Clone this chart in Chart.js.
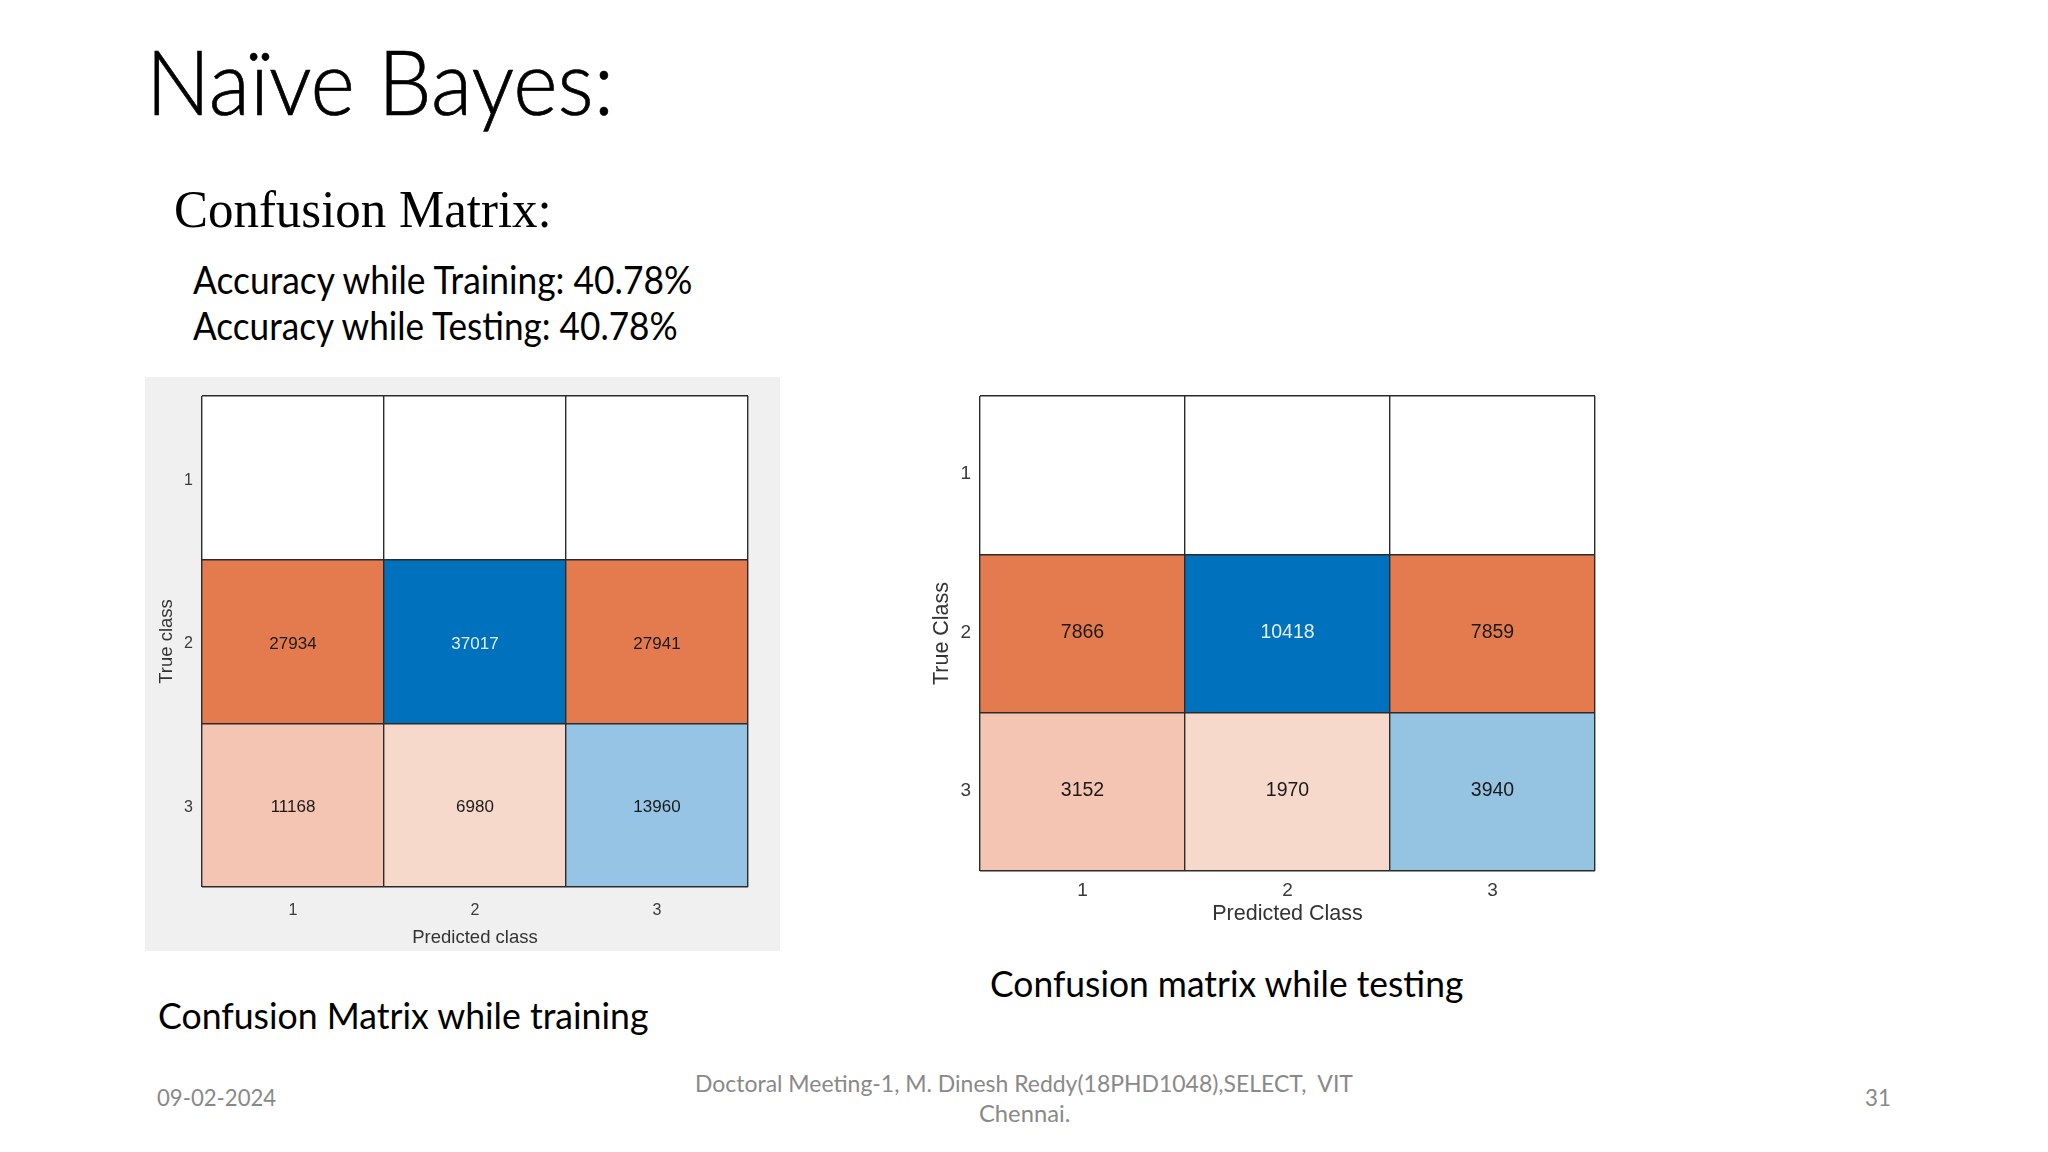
<!DOCTYPE html>
<html><head><meta charset="utf-8">
<script src="https://cdn.jsdelivr.net/npm/chart.js@4.4.1/dist/chart.umd.min.js"></script>
<style>
html,body{margin:0;padding:0;background:#fff;}
body{width:2048px;height:1152px;position:relative;overflow:hidden;}
.t{position:absolute;white-space:pre;line-height:1;transform-origin:0 0;}
#trainBox{position:absolute;left:145px;top:377px;width:635px;height:574px;background:#f0f0f0;}
#testBox{position:absolute;left:920px;top:380px;width:700px;height:560px;background:#fff;}
canvas{display:block;}
</style></head><body>
<div id="trainBox"><canvas id="trainChart" width="635" height="574"></canvas></div>
<div id="testBox"><canvas id="testChart" width="700" height="560"></canvas></div>
<script>
// ---------- data ----------
const classLabels = ['1', '2', '3'];            // predicted / true class tick labels
const trainRow1 = [0, 0, 0];                    // true class 1 (empty)
const trainRow2 = [27934, 37017, 27941];        // true class 2
const trainRow3 = [11168, 6980, 13960];         // true class 3
const testRow1 = [0, 0, 0];
const testRow2 = [7866, 10418, 7859];
const testRow3 = [3152, 1970, 3940];

// ---------- slide texts ----------
const slideTexts = [
  {s:'Naïve Bayes:', font:'300 90px Lato', left:146, base:115, w:468, color:'#000', stroke:0.7},
  {s:'Confusion Matrix:', font:'52px "Liberation Serif"', left:174, base:227, w:378, color:'#000'},
  {s:'Accuracy while Training: 40.78%', font:'39px Lato', left:193, base:294, w:499, color:'#000'},
  {s:'Accuracy while Testing: 40.78%', font:'39px Lato', left:193, base:340, w:485, color:'#000'},
  {s:'Confusion Matrix while training', font:'37px Lato', left:158, base:1029, w:490, color:'#000'},
  {s:'Confusion matrix while testing', font:'37px Lato', left:990, base:997, w:473, color:'#000'},
  {s:'09-02-2024', font:'24px Lato', left:157, base:1106, w:119, color:'#898989'},
  {s:'Doctoral Meeting-1, M. Dinesh Reddy(18PHD1048),SELECT,  VIT', font:'24px Lato', center:1024, base:1092, w:658, color:'#898989'},
  {s:'Chennai.', font:'24px Lato', center:1024, base:1122, w:91, color:'#898989'},
  {s:'31', font:'24px Lato', left:1865, base:1106, w:26, color:'#898989'}
];

function placeTexts(){
  slideTexts.forEach(t => {
    const d = document.createElement('div');
    d.className = 't';
    d.style.font = t.font;
    d.style.lineHeight = '1';
    d.style.color = t.color;
    if (t.stroke) d.style.webkitTextStroke = t.stroke + 'px ' + t.color;
    d.textContent = t.s;
    const mark = document.createElement('span');
    mark.style.display = 'inline-block';
    mark.style.width = '0px';
    mark.style.height = '0px';
    d.appendChild(mark);
    d.style.left = '0px'; d.style.top = '0px';
    document.body.appendChild(d);
    const baseOff = mark.offsetTop;
    const natW = d.offsetWidth;
    const sx = t.w / natW;
    const left = t.center !== undefined ? t.center - t.w / 2 : t.left;
    d.style.left = left + 'px';
    d.style.top = (t.base - baseOff) + 'px';
    d.style.transform = 'scaleX(' + sx.toFixed(4) + ')';
  });
}

// ---------- chart helpers ----------
const diagBase = [0, 114, 189];
const offBase = [228, 123, 79];
function mix(base, a){
  return 'rgb(' + base.map(c => Math.round(255 + (c - 255) * a)).join(',') + ')';
}
function buildDatasets(rows){
  // rows: top-to-bottom list of true-class rows; datasets are stacked bottom-up
  let maxDiag = 0, maxOff = 0;
  rows.forEach((r, ri) => r.forEach((v, ci) => {
    if (ri === ci) maxDiag = Math.max(maxDiag, v); else maxOff = Math.max(maxOff, v);
  }));
  const ds = [];
  for (let ri = rows.length - 1; ri >= 0; ri--) {
    const r = rows[ri];
    const bg = [], tc = [];
    r.forEach((v, ci) => {
      const diag = ri === ci;
      if (!v) { bg.push('#ffffff'); tc.push('#000'); return; }
      const a = Math.pow(v / (diag ? maxDiag : maxOff), 0.9);
      bg.push(mix(diag ? diagBase : offBase, a));
      tc.push(diag && a > 0.6 ? '#e4eefa' : '#1a1a1a');
    });
    ds.push({
      label: 'True ' + classLabels[ri],
      data: r.map(() => 1),          // each cell is one unit tall
      counts: r,
      textColors: tc,
      backgroundColor: bg,
      borderWidth: 0,
      barPercentage: 1,
      categoryPercentage: 1,
      yAxisID: 'y'
    });
  }
  return ds;
}

const cellText = {
  id: 'cellText',
  afterDatasetsDraw(chart){
    const ctx = chart.ctx;
    const o = chart.options.plugins.cellText;
    chart.data.datasets.forEach((ds, di) => {
      const meta = chart.getDatasetMeta(di);
      meta.data.forEach((el, i) => {
        const v = ds.counts[i];
        if (!v) return;
        const p = el.getProps(['x', 'y', 'base'], true);
        ctx.save();
        ctx.font = o.size + 'px "Liberation Sans"';
        ctx.fillStyle = ds.textColors[i];
        ctx.textAlign = 'center';
        ctx.textBaseline = 'middle';
        ctx.fillText(String(v), p.x, (p.y + p.base) / 2 + o.dy);
        ctx.restore();
      });
    });
  }
};

function makeChart(id, rows, cfg){
  const gridColor = '#2b2b2b';
  return new Chart(document.getElementById(id), {
    type: 'bar',
    data: { labels: classLabels, datasets: buildDatasets(rows) },
    plugins: [cellText],
    options: {
      responsive: false,
      animation: false,
      devicePixelRatio: 1,
      layout: { padding: cfg.pad },
      plugins: { legend: {display: false}, tooltip: {enabled: false}, cellText: {size: cfg.cellFont, dy: cfg.textDy} },
      scales: {
        x: {
          type: 'category', labels: classLabels, stacked: true, offset: true,
          grid: { offset: true, color: gridColor, lineWidth: 1.4, drawTicks: false, z: 1 },
          border: { display: false },
          ticks: { color: '#3a3a3a', font: {family: 'Liberation Sans', size: cfg.tickFont}, padding: cfg.xTickPad, maxRotation: 0 },
          title: { display: true, text: cfg.xTitle, color: '#333', font: {family: 'Liberation Sans', size: cfg.titleFont}, padding: {top: 0, bottom: cfg.xTitlePad} },
          afterFit(s){ s.height = cfg.xHeight; s.paddingLeft = 0; s.paddingRight = 0; }
        },
        y: {
          type: 'linear', stacked: true, min: 0, max: 3, position: 'left', weight: 0,
          ticks: { display: false, stepSize: 1 },
          grid: { color: gridColor, lineWidth: 1.4, drawTicks: false, z: 1 },
          border: { display: false },
          afterFit(s){ s.width = 0; s.paddingTop = 0; s.paddingBottom = 0; }
        },
        yLab: {
          type: 'linear', min: 0, max: 3, position: 'left', weight: 1,
          afterBuildTicks(s){ s.ticks = classLabels.map((_, i) => ({value: i + 0.5})); },
          ticks: {
            color: '#3a3a3a', font: {family: 'Liberation Sans', size: cfg.tickFont}, padding: cfg.yTickPad,
            labelOffset: cfg.textDy,
            callback: (v) => classLabels[classLabels.length - 1 - Math.floor(v)]
          },
          grid: { display: false, drawTicks: false },
          border: { display: false },
          title: { display: true, text: cfg.yTitle, color: '#333', font: {family: 'Liberation Sans', size: cfg.titleFont}, padding: {top: cfg.yTitlePad, bottom: 0} },
          afterFit(s){ s.width = cfg.yWidth; s.paddingTop = 0; s.paddingBottom = 0; }
        }
      }
    }
  });
}

placeTexts();

makeChart('trainChart', [trainRow1, trainRow2, trainRow3], {
  pad: {top: 19, right: 32, left: 0, bottom: 0},
  xHeight: 64, yWidth: 57,
  tickFont: 16, titleFont: 18.5, cellFont: 17, textDy: 2.5,
  xTickPad: 13.5, yTickPad: 9, xTitlePad: 1.5, yTitlePad: 11,
  xTitle: 'Predicted class', yTitle: 'True class'
});
makeChart('testChart', [testRow1, testRow2, testRow3], {
  pad: {top: 16, right: 25, left: 0, bottom: 0},
  xHeight: 69, yWidth: 60,
  tickFont: 19, titleFont: 21.5, cellFont: 19.5, textDy: -1,
  xTickPad: 8.5, yTickPad: 9, xTitlePad: 13.5, yTitlePad: 9,
  xTitle: 'Predicted Class', yTitle: 'True Class'
});
</script>
</body></html>
